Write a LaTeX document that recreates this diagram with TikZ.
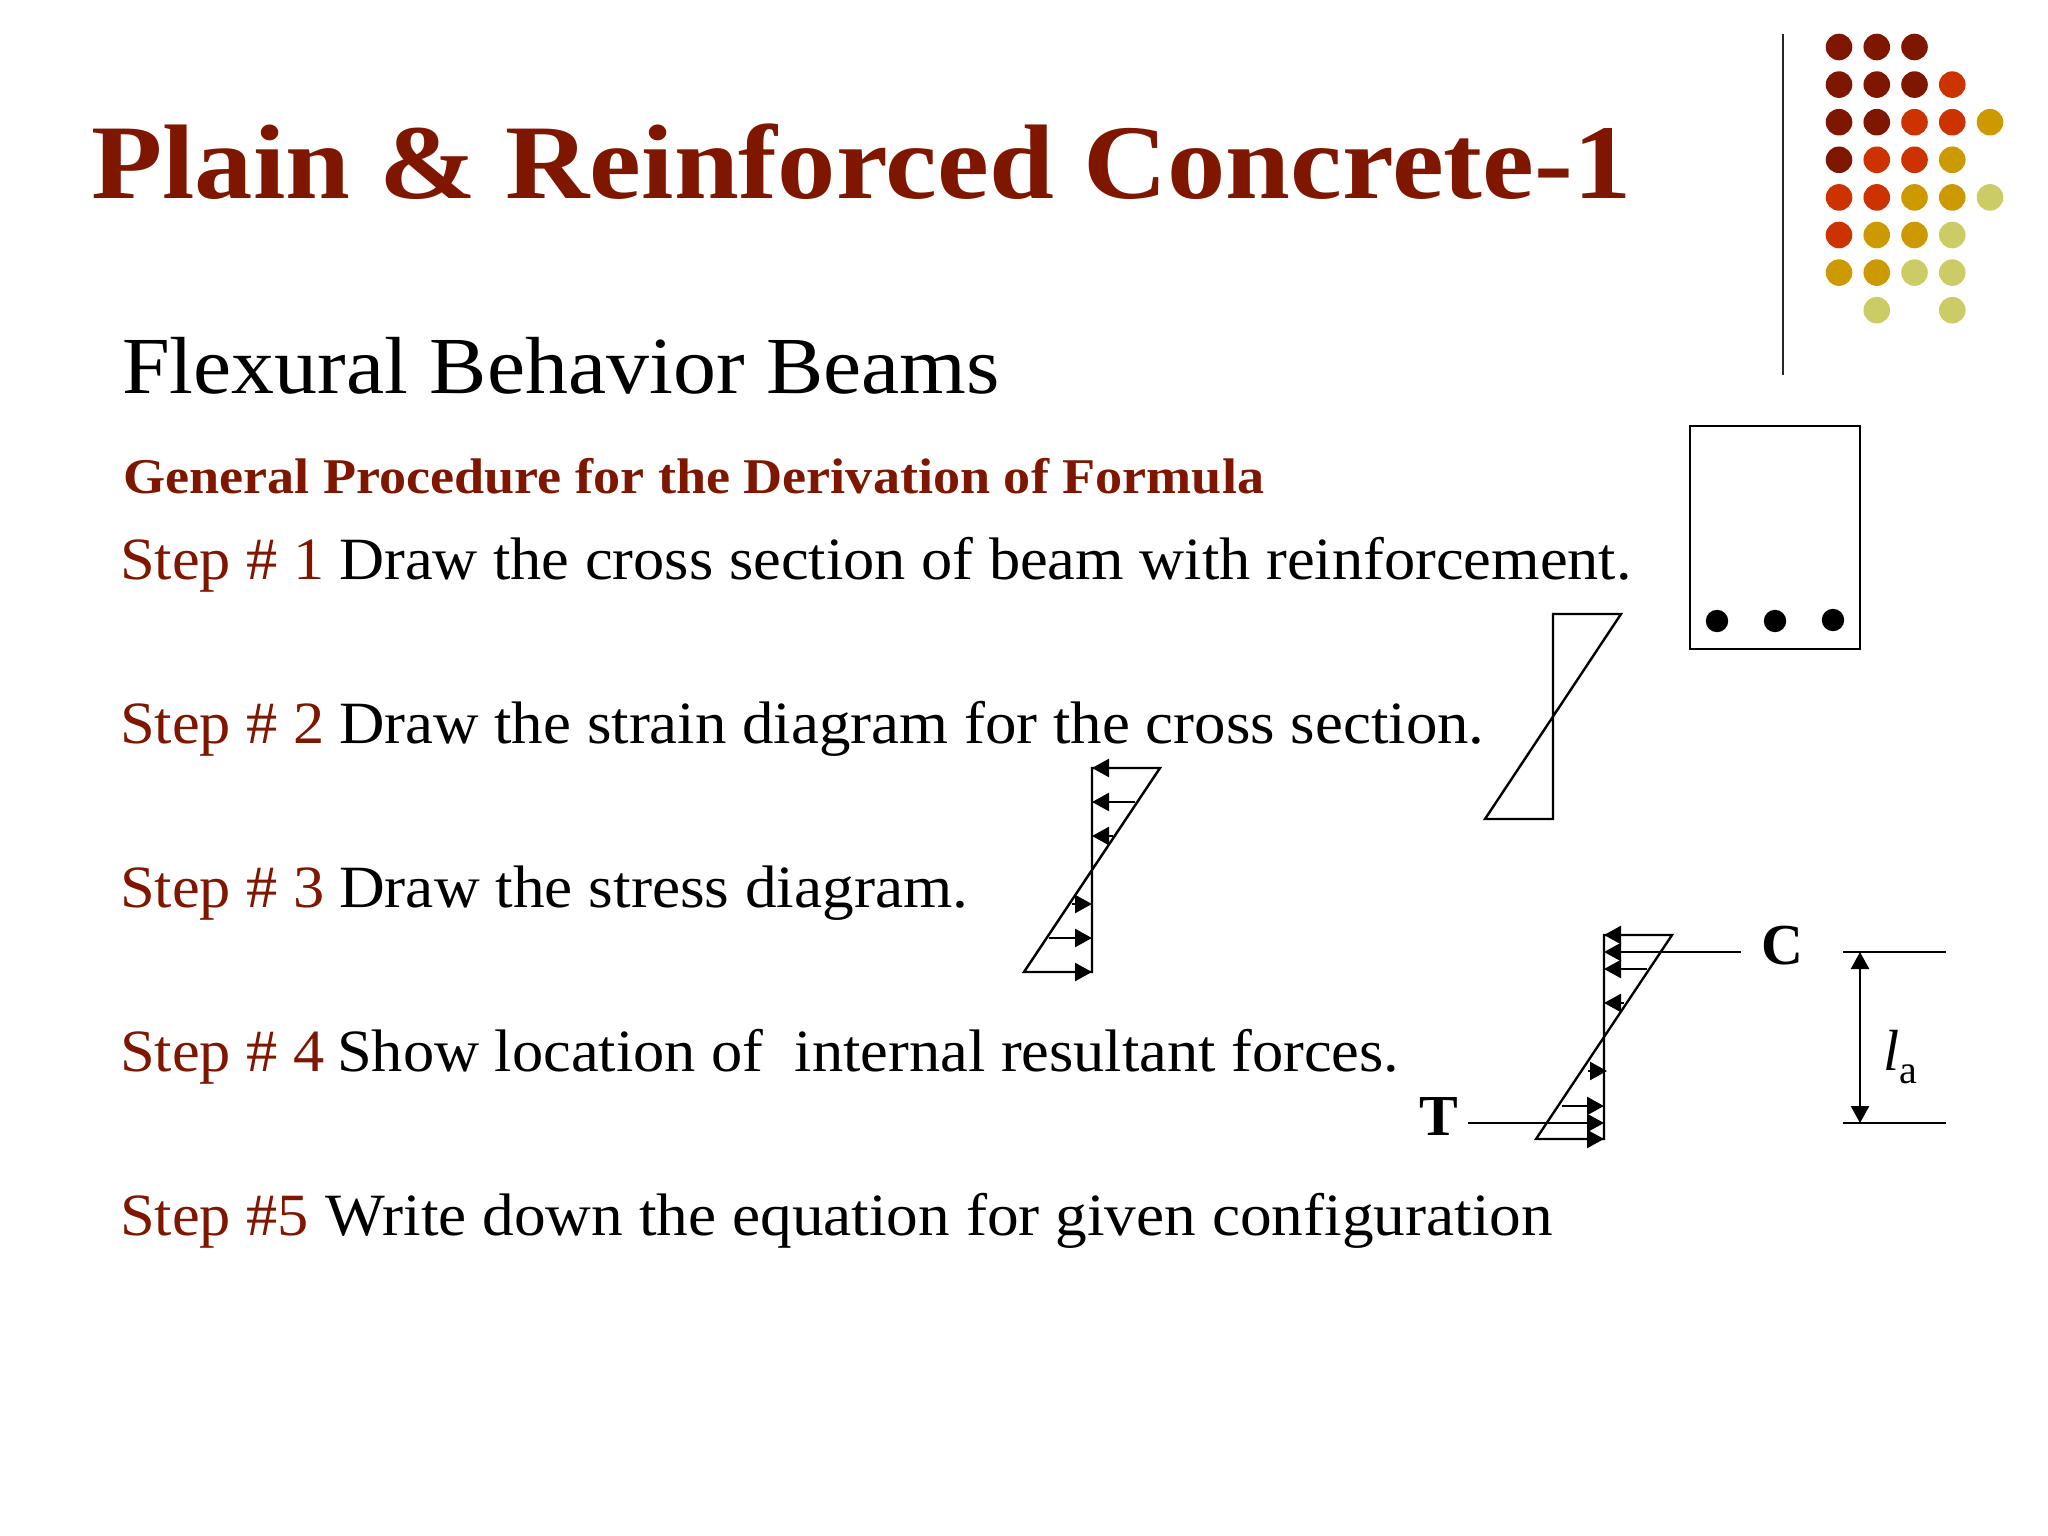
\documentclass[tikz,border=0pt]{standalone}
\usepackage{fontspec}
\setmainfont{Liberation Serif}
\newfontfamily\titlefont[FakeStretch=1.10]{Liberation Serif}
\newfontfamily\subfont[FakeStretch=1.06]{Liberation Serif}
\newfontfamily\headfont[FakeStretch=1.083]{Liberation Serif}
\newfontfamily\stepfont[FakeStretch=1.04]{Liberation Serif}
\newfontfamily\stepmidfont[FakeStretch=1.048]{Liberation Serif}
\newfontfamily\stepwidefont[FakeStretch=1.055]{Liberation Serif}
\usetikzlibrary{arrows.meta}
\definecolor{dotdark}{HTML}{7F1600}
\definecolor{dotred}{HTML}{CC3300}
\definecolor{dotgold}{HTML}{CC9900}
\definecolor{dotkhaki}{HTML}{CCCC66}
\tikzset{
  titletext/.style={anchor=base west,inner sep=0pt,text=dotdark,font=\titlefont\bfseries\fontsize{106}{110}\selectfont},
  subtext/.style={anchor=base west,inner sep=0pt,font=\subfont\fontsize{81}{85}\selectfont},
  headtext/.style={anchor=base west,inner sep=0pt,text=dotdark,font=\headfont\bfseries\fontsize{50}{54}\selectfont},
  steplabel/.style={anchor=base west,inner sep=0pt,text=dotdark,font=\stepfont\fontsize{60}{64}\selectfont},
  steptext/.style={anchor=base west,inner sep=0pt,font=\stepfont\fontsize{60}{64}\selectfont},
  stepmid/.style={anchor=base west,inner sep=0pt,font=\stepmidfont\fontsize{60}{64}\selectfont},
  stepwide/.style={anchor=base west,inner sep=0pt,font=\stepwidefont\fontsize{60}{64}\selectfont},
  forcetext/.style={anchor=base,inner sep=0pt,font=\bfseries\fontsize{58}{62}\selectfont},
  diagram/.style={line width=2.4pt,line join=miter},
  force/.style={line width=2.4pt,-{Triangle[length=17pt,width=18pt]}},
}
\begin{document}
\begin{tikzpicture}[x=1pt,y=-1pt]
\useasboundingbox (0,0) rectangle (2048,1536);

\node[titletext] (title) at (91,198) {Plain \& Reinforced Concrete-1};
\node[subtext] (sub) at (122,393) {Flexural Behavior Beams};
\node[headtext] (head) at (123,493) {General Procedure for the Derivation of Formula};

\node[steplabel] (s1) at (120,579) {Step \# 1};
\node[steptext] (t1) at (339,579) {Draw the cross section of beam with reinforcement.};
\node[steplabel] (s2) at (120,743) {Step \# 2};
\node[stepmid] (t2) at (339,743) {Draw the strain diagram for the cross section.};
\node[steplabel] (s3) at (120,907) {Step \# 3};
\node[stepwide] (t3) at (339,907) {Draw the stress diagram.};
\node[steplabel] (s4) at (120,1071) {Step \# 4};
\node[steptext] (t4) at (337,1071) {Show location of \ internal resultant forces.};
\node[steplabel] (s5) at (120,1235) {Step \#5};
\node[stepwide] (t5) at (325,1235) {Write down the equation for given configuration};

\draw[line width=2.5pt,black!85] (1783,34) -- (1783,375);
\foreach \c/\r/\colr in {1/1/dotdark,2/1/dotdark,3/1/dotdark,
  1/2/dotdark,2/2/dotdark,3/2/dotdark,4/2/dotred,
  1/3/dotdark,2/3/dotdark,3/3/dotred,4/3/dotred,5/3/dotgold,
  1/4/dotdark,2/4/dotred,3/4/dotred,4/4/dotgold,
  1/5/dotred,2/5/dotred,3/5/dotgold,4/5/dotgold,5/5/dotkhaki,
  1/6/dotred,2/6/dotgold,3/6/dotgold,4/6/dotkhaki,
  1/7/dotgold,2/7/dotgold,3/7/dotkhaki,4/7/dotkhaki,
  2/8/dotkhaki,4/8/dotkhaki}
  \fill[\colr] ({1839+37.75*(\c-1)},{47+37.6*(\r-1)}) circle (13.3);

\draw[line width=2.5pt] (1690,426) rectangle (1860,649);
\foreach \x/\y in {1717/621,1775/621,1833/620}
  \fill (\x,\y) circle (11.2);

\draw[diagram] (1553,819) -- (1553,614) -- (1621,614) -- (1485,819) -- cycle;

\draw[diagram] (1092,972) -- (1092,768) -- (1160,768) -- (1024,972) -- cycle;
\foreach \x/\y in {1160/768,1135/802,1113/836,1072/904,1049/938,1024/972}
  \draw[force] (\x,\y) -- (1092,\y);

\draw[diagram] (1604,1139) -- (1604,935) -- (1672,935) -- (1536,1139) -- cycle;
\foreach \x/\y in {1672/935,1647/969,1624/1003,1562/1106,1536/1139}
  \draw[force] (\x,\y) -- (1604,\y);
\draw[force] (1588,1071) -- (1607,1071);
\node[forcetext] (C) at (1782,964) {C};
\node[forcetext] (T) at (1439,1135) {T};
\coordinate (cstart) at (1741,952);
\coordinate (cend) at (1604,952);
\coordinate (tstart) at (1468,1123);
\coordinate (tend) at (1604,1123);
\draw[force] (cstart) -- (cend);
\draw[force] (tstart) -- (tend);

\coordinate (lt) at (1843,952);
\coordinate (lb) at (1843,1123);
\draw[diagram] (lt) -- ++(103,0);
\draw[diagram] (lb) -- ++(103,0);
\draw[line width=2.4pt,{Triangle[length=17pt,width=18pt]}-{Triangle[length=17pt,width=18pt]}] (1860,952) -- (1860,1123);
\node[anchor=base west,inner sep=0pt,font=\fontsize{58}{62}\selectfont] (la) at (1883,1070) {\textit{l}\raisebox{-13pt}{\fontsize{40}{44}\selectfont a}};
\end{tikzpicture}
\end{document}
